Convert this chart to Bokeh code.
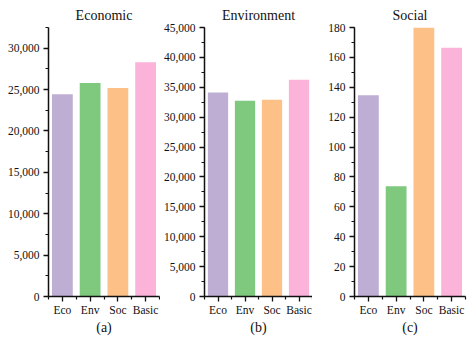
from bokeh.plotting import figure
from bokeh.layouts import row
from bokeh.models import Range1d, FixedTicker, NumeralTickFormatter, ColumnDataSource
from bokeh.embed import file_html
from bokeh.resources import INLINE

categories = ["Eco", "Env", "Soc", "Basic"]
colors = ["#BEAED4", "#7FC97F", "#FDC086", "#FCB3DA"]
economic = [24450, 25780, 25180, 28310]
environment = [34130, 32750, 32910, 36240]
social = [134.6, 73.8, 180, 166.4]
titles = ["Economic", "Environment", "Social"]
panel_labels = ["(a)", "(b)", "(c)"]
y_max = [32500, 45000, 180]
y_major = [list(range(0, 30001, 5000)), list(range(0, 45001, 5000)), list(range(0, 181, 20))]
y_minor = [list(range(0, 32501, 2500)), list(range(0, 45001, 2500)), list(range(0, 181, 10))]
series = [economic, environment, social]

FONT = "Liberation Serif"
widths = [160, 152, 162]
lefts = [48, 41, 42]
rights = [1, 0, 9]

figs = []
for k in range(3):
    n = len(categories)
    xs = [i + 0.5 for i in range(n)]
    src = ColumnDataSource(dict(x=xs, top=series[k], color=colors, cat=categories))
    p = figure(width=widths[k], height=337, output_backend="svg", toolbar_location=None,
               x_range=Range1d(0, n), y_range=Range1d(0, y_max[k]),
               min_border_left=lefts[k], min_border_right=rights[k],
               min_border_top=26, min_border_bottom=41)
    p.vbar(x="x", top="top", width=0.75, color="color", line_color=None, source=src)
    p.title.text = titles[k]
    p.title.align = "center"
    p.title.text_font = FONT
    p.title.text_font_size = "14px"
    p.title.text_font_style = "normal"
    p.title.text_color = "#111111"
    p.title.standoff = 10
    p.outline_line_color = None
    p.xgrid.visible = False
    p.ygrid.visible = False
    p.background_fill_color = "white"
    p.border_fill_color = "white"

    xa = p.xaxis[0]
    xa.ticker = FixedTicker(ticks=xs, minor_ticks=list(range(n + 1)))
    xa.major_label_overrides = {x: c for x, c in zip(xs, categories)}
    xa.axis_label = panel_labels[k]
    ya = p.yaxis[0]
    ya.ticker = FixedTicker(ticks=y_major[k], minor_ticks=y_minor[k])
    if k < 2:
        ya.formatter = NumeralTickFormatter(format="0,0")
    for ax in (xa, ya):
        ax.axis_line_width = 1.5
        ax.axis_line_color = "#111111"
        ax.major_tick_line_color = "#111111"
        ax.minor_tick_line_color = "#111111"
        ax.major_tick_line_width = 1.3
        ax.minor_tick_line_width = 1.2
        ax.major_tick_out = 5
        ax.major_tick_in = 0
        ax.minor_tick_out = 3
        ax.minor_tick_in = 0
        ax.major_label_text_font = FONT
        ax.major_label_text_font_size = "11.5px"
        ax.major_label_text_font_style = "normal"
        ax.major_label_text_color = "#111111"
        ax.axis_label_text_font = FONT
        ax.axis_label_text_font_size = "14px"
        ax.axis_label_text_font_style = "normal"
        ax.axis_label_text_color = "#111111"
    xa.major_label_standoff = 2
    xa.axis_label_standoff = 1
    ya.major_label_standoff = 4
    figs.append(p)

layout = row(*figs, spacing=0)
open("out.html", "w").write(file_html(layout, INLINE))
